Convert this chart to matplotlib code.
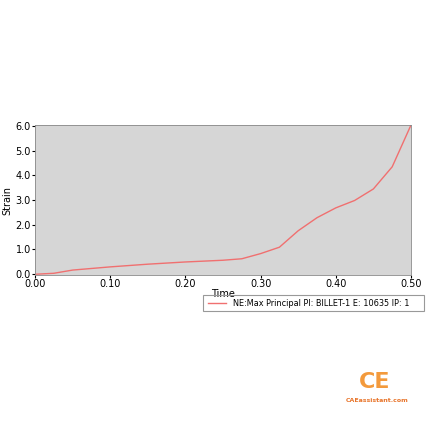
import matplotlib.pyplot as plt
from matplotlib.patches import Rectangle

time = [0.0, 0.025, 0.05, 0.1, 0.15, 0.2, 0.25, 0.275, 0.3, 0.325, 0.35,
        0.375, 0.4, 0.425, 0.45, 0.475, 0.5]
strain = [-0.02, 0.02, 0.15, 0.28, 0.39, 0.48, 0.55, 0.61, 0.82, 1.08, 1.75,
          2.28, 2.68, 2.98, 3.45, 4.35, 6.05]
xticks = [0.0, 0.1, 0.2, 0.3, 0.4, 0.5]
yticks = [0.0, 1.0, 2.0, 3.0, 4.0, 5.0, 6.0]
label = "NE:Max Principal PI: BILLET-1 E: 10635 IP: 1"

fig = plt.figure(figsize=(4.3, 4.3), dpi=100)
ax = fig.add_axes([35 / 430, 1 - 275 / 430, 376 / 430, 150 / 430])
ax.set_facecolor("#d6d6d6")
ax.plot(time, strain, color="#f07070", lw=1.0)
ax.set_xlim(0, 0.5)
ax.set_ylim(-0.05, 6.05)
ax.set_xticks(xticks, [f"{v:.2f}" for v in xticks])
ax.set_yticks(yticks, [f"{v:.1f}" for v in yticks])
ax.tick_params(labelsize=7, length=2, direction="out", pad=1)
ax.set_xlabel("Time", fontsize=7, labelpad=0)
ax.set_ylabel("Strain", fontsize=7, labelpad=2)
for s in ax.spines.values():
    s.set_color("#888888")
    s.set_linewidth(0.6)

# legend box
fig.patches.append(Rectangle((203 / 430, 1 - 311 / 430), 221 / 430, 16 / 430,
                             transform=fig.transFigure, fill=False,
                             edgecolor="#999999", lw=0.8))
fig.add_artist(plt.Line2D([208 / 430, 226 / 430], [1 - 303 / 430] * 2,
                          transform=fig.transFigure, color="#f07070", lw=1.0))
fig.text(233 / 430, 1 - 303 / 430, label, fontsize=5.9, va="center")

# logo
fig.text(375 / 430, 1 - 382 / 430, "CE", fontsize=16, color="#f39a3c",
         ha="center", va="center", fontweight="bold")
fig.text(377 / 430, 1 - 401 / 430, "CAEassistant.com", fontsize=4.5,
         color="#e8742a", ha="center", va="center", fontweight="bold")

fig.savefig("out.png", dpi=100)
